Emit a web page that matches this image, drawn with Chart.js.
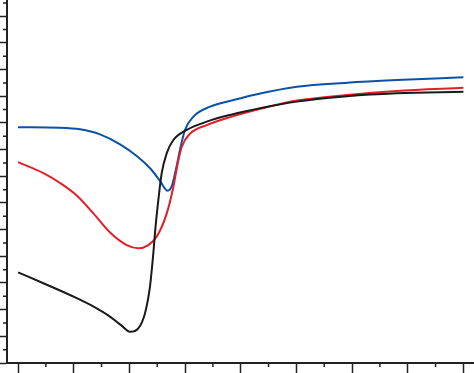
<!DOCTYPE html>
<html lang="en">
<head>
    <meta charset="UTF-8">
    <title>Three curves</title>
    <script src="https://cdn.jsdelivr.net/npm/chart.js"></script>
    <style>
        html, body {
            margin: 0;
            padding: 0;
            background: #fff;
        }
        #chartContainer {
            width: 474px;
            height: 373px;
        }
    </style>
</head>
<body>
    <div id="chartContainer">
        <canvas id="curveChart"></canvas>
    </div>
    <script>
        // values (x and y both in major-tick units)
        const blackX = [0, 0.455, 1.055, 1.35, 1.65, 1.85, 2.01, 2.16, 2.28, 2.37, 2.43, 2.47, 2.52, 2.58, 2.67, 2.79, 3.03, 3.39, 3.81, 4.41, 5.01, 5.91, 6.80, 8.0];
        const blackY = [3.40, 2.99, 2.43, 2.12, 1.74, 1.42, 1.17, 1.30, 1.86, 2.86, 4.11, 5.11, 6.11, 7.11, 7.86, 8.36, 8.74, 9.05, 9.30, 9.58, 9.80, 10.00, 10.11, 10.17];

        const redX = [0, 0.455, 0.755, 1.055, 1.353, 1.653, 1.953, 2.161, 2.341, 2.492, 2.67, 2.79, 2.87, 2.94, 3.09, 3.39, 3.81, 4.41, 5.01, 5.91, 6.80, 8.0];
        const redY = [7.53, 7.12, 6.75, 6.28, 5.61, 4.89, 4.42, 4.30, 4.42, 4.74, 5.60, 6.60, 7.50, 8.10, 8.60, 8.92, 9.22, 9.56, 9.84, 10.05, 10.20, 10.32];

        const blueX = [0, 0.755, 1.114, 1.473, 1.833, 2.133, 2.372, 2.552, 2.683, 2.76, 2.84, 2.92, 3.00, 3.15, 3.45, 3.87, 4.29, 5.01, 5.91, 6.80, 8.0];
        const blueY = [8.84, 8.82, 8.76, 8.57, 8.20, 7.76, 7.30, 6.82, 6.46, 6.62, 7.30, 8.10, 8.74, 9.24, 9.61, 9.86, 10.08, 10.36, 10.51, 10.61, 10.71];

        const xTicks = [0, 1, 2, 3, 4, 5, 6, 7, 8];
        const xMinor = [0.5, 1.5, 2.5, 3.5, 4.5, 5.5, 6.5, 7.5];
        const yTicks = [0, 1, 2, 3, 4, 5, 6, 7, 8, 9, 10, 11, 12, 13];
        const yMinor = [0.5, 1.5, 2.5, 3.5, 4.5, 5.5, 6.5, 7.5, 8.5, 9.5, 10.5, 11.5, 12.5, 13.5];

        function pts(xs, ys) {
            return xs.map((x, i) => ({ x: x, y: ys[i] }));
        }

        function line(xs, ys, color) {
            return {
                data: pts(xs, ys),
                borderColor: color,
                borderWidth: 2,
                pointRadius: 0,
                fill: false,
                cubicInterpolationMode: 'monotone'
            };
        }

        // short minor ticks, placed through the scales
        const minorTicks = {
            id: 'minorTicks',
            afterDraw(chart) {
                const ctx = chart.ctx;
                const xs = chart.scales.x, ys = chart.scales.y;
                const bottom = chart.chartArea.bottom, left = chart.chartArea.left;
                ctx.save();
                ctx.strokeStyle = '#222';
                ctx.lineWidth = 1.5;
                ctx.beginPath();
                xMinor.forEach(v => {
                    const px = xs.getPixelForValue(v);
                    ctx.moveTo(px, bottom);
                    ctx.lineTo(px, bottom + 4);
                });
                yMinor.forEach(v => {
                    const py = ys.getPixelForValue(v);
                    ctx.moveTo(left - 4, py);
                    ctx.lineTo(left, py);
                });
                ctx.stroke();
                ctx.restore();
            }
        };

        new Chart(document.getElementById('curveChart'), {
            type: 'line',
            data: {
                datasets: [
                    line(blackX, blackY, '#1a1a1a'),
                    line(redX, redY, '#e31e26'),
                    line(blueX, blueY, '#0b52a6')
                ]
            },
            options: {
                responsive: true,
                maintainAspectRatio: false,
                animation: false,
                layout: { padding: 0 },
                plugins: {
                    legend: { display: false },
                    tooltip: { enabled: false }
                },
                scales: {
                    x: {
                        type: 'linear',
                        min: -0.198,
                        max: 8.19,
                        afterBuildTicks: s => { s.ticks = xTicks.map(v => ({ value: v })); },
                        ticks: { display: false },
                        grid: { drawOnChartArea: false, drawTicks: true, tickLength: 10, tickColor: '#222', tickWidth: 1.5 },
                        border: { display: true, color: '#222', width: 2 }
                    },
                    y: {
                        type: 'linear',
                        min: 0,
                        max: 13.61,
                        afterBuildTicks: s => { s.ticks = yTicks.map(v => ({ value: v })); },
                        ticks: { display: false },
                        grid: { drawOnChartArea: false, drawTicks: true, tickLength: 7, tickColor: '#222', tickWidth: 1.5 },
                        border: { display: true, color: '#222', width: 2 }
                    }
                }
            },
            plugins: [minorTicks]
        });
    </script>
</body>
</html>
